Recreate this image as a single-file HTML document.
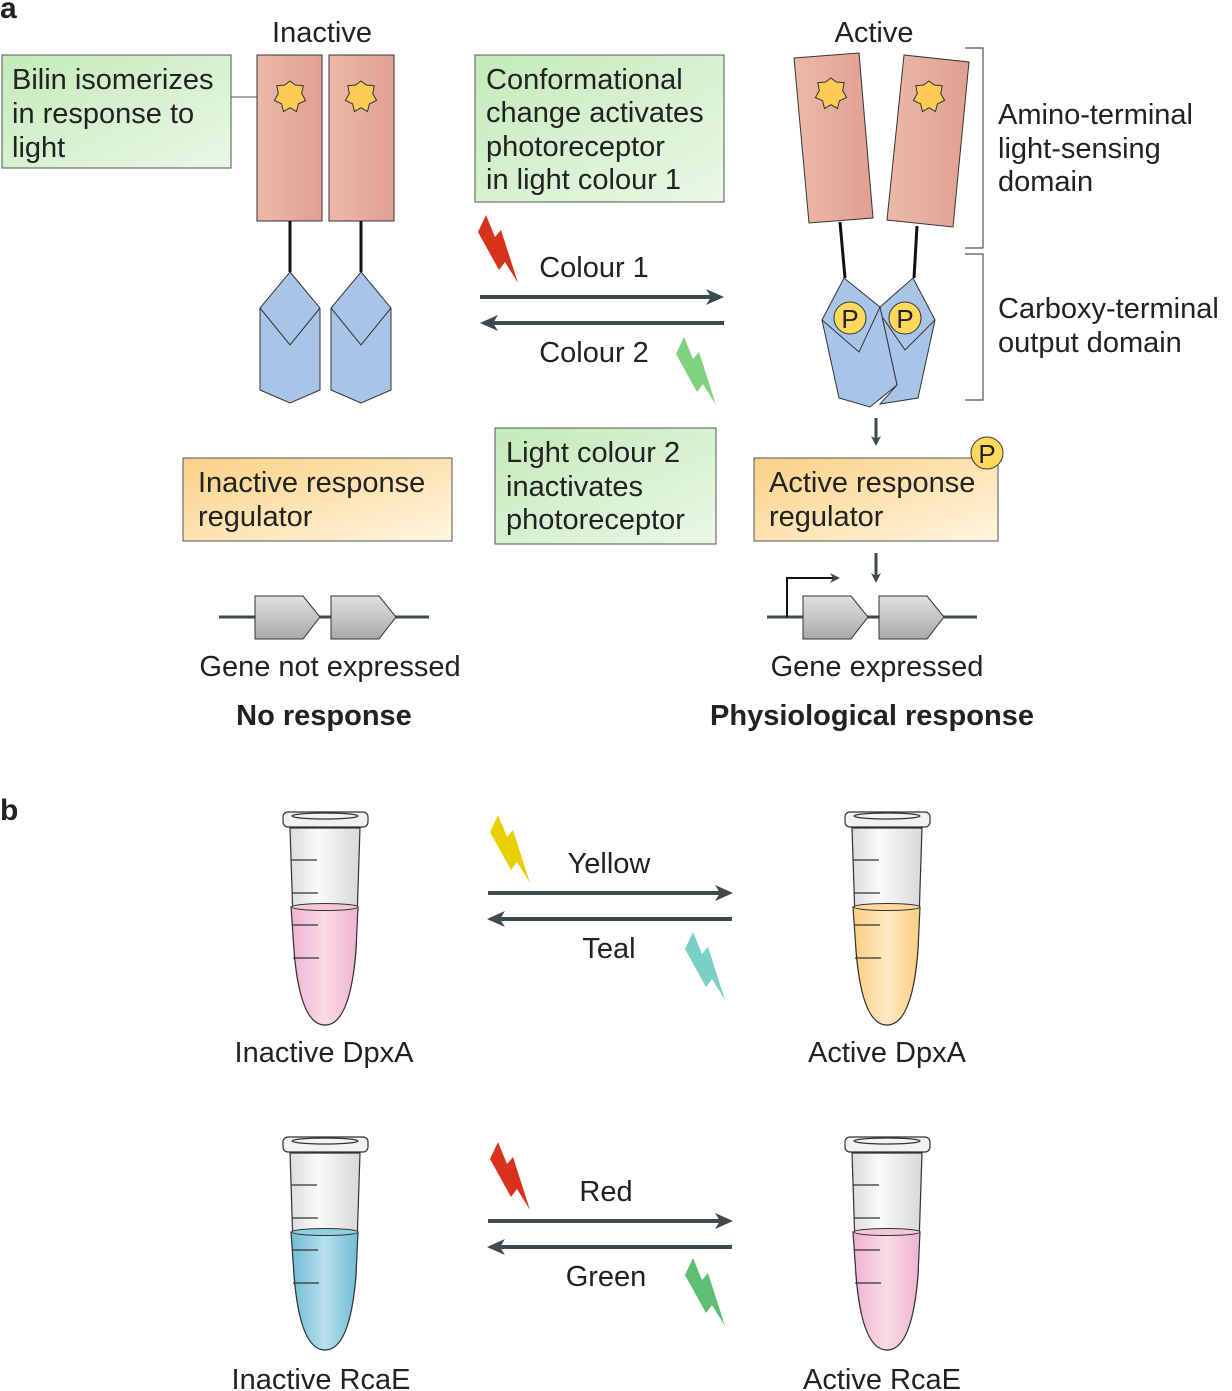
<!DOCTYPE html>
<html><head><meta charset="utf-8"><style>
html,body{margin:0;padding:0;background:#fff}
svg{display:block}
text{font-family:"Liberation Sans",sans-serif;font-size:29px;fill:#222}
</style></head><body>
<svg width="1232" height="1391" viewBox="0 0 1232 1391" xmlns="http://www.w3.org/2000/svg">
<defs>
<linearGradient id="red" x1="0" x2="1"><stop offset="0" stop-color="#ecb9aa"/><stop offset="1" stop-color="#e0a090"/></linearGradient>
<linearGradient id="grn" x1="0" y1="0" x2="1" y2="1"><stop offset="0" stop-color="#c3eab9"/><stop offset="1" stop-color="#eaf8e6"/></linearGradient>
<linearGradient id="org" x1="0" y1="0" x2="1" y2="1"><stop offset="0" stop-color="#fbd085"/><stop offset="1" stop-color="#fff5df"/></linearGradient>
<linearGradient id="gene" x1="0" y1="0" x2="0" y2="1"><stop offset="0" stop-color="#e0e0e0"/><stop offset="1" stop-color="#a9a9a9"/></linearGradient>
<linearGradient id="glass" x1="0" x2="1"><stop offset="0" stop-color="#dcdcdc"/><stop offset="0.4" stop-color="#fafafa"/><stop offset="1" stop-color="#d8d8d8"/></linearGradient>
<linearGradient id="pink" x1="0" x2="1"><stop offset="0" stop-color="#eeb3cc"/><stop offset="0.5" stop-color="#f9dbe7"/><stop offset="1" stop-color="#eeb3cc"/></linearGradient>
<linearGradient id="orl" x1="0" x2="1"><stop offset="0" stop-color="#fbcd80"/><stop offset="0.5" stop-color="#fee9c4"/><stop offset="1" stop-color="#fbcd80"/></linearGradient>
<linearGradient id="blu" x1="0" x2="1"><stop offset="0" stop-color="#6fbcd4"/><stop offset="0.5" stop-color="#b6e0ec"/><stop offset="1" stop-color="#6fbcd4"/></linearGradient>
<marker id="ah" markerWidth="10" markerHeight="10" refX="6" refY="5" orient="auto" markerUnits="userSpaceOnUse"><path d="M0,0 L10,5 L0,10 L3,5 Z" fill="#3d4a4f"/></marker>
<marker id="ah2" markerWidth="18" markerHeight="16" refX="14" refY="8" orient="auto" markerUnits="userSpaceOnUse"><path d="M0,0 L18,8 L0,16 L5,8 Z" fill="#3d4a4f"/></marker>
<polygon id="bolt" points="0,17 8,0 17,22 23,15 40,68 27,47 21,55"/>
<polygon id="star" points="0,-15 5.3,-11 13.2,-10.3 11.7,-2.5 15.6,4.5 8.4,7.8 6.5,15.6 0,11.7 -6.5,15.6 -8.4,7.8 -15.6,4.5 -11.7,-2.5 -13.2,-10.3 -5.3,-11" fill="#fdcb54" stroke="#333" stroke-width="1"/>
<g id="genes"><polygon points="0,0 48,0 65,21 48,43 0,43" fill="url(#gene)" stroke="#333" stroke-width="1"/></g>
</defs>

<text x="0" y="18" style="font-weight:bold;font-size:30px">a</text>
<text x="0" y="820" style="font-weight:bold;font-size:30px">b</text>

<text x="322" y="42" text-anchor="middle">Inactive</text>
<text x="874" y="42" text-anchor="middle">Active</text>

<rect x="2" y="55" width="229" height="113" fill="url(#grn)" stroke="#555" stroke-width="1"/>
<text x="12" y="89">Bilin isomerizes</text><text x="12" y="123">in response to</text><text x="12" y="157">light</text>
<line x1="231" y1="97" x2="280" y2="97" stroke="#555" stroke-width="1"/>
<rect x="475" y="55" width="249" height="147" fill="url(#grn)" stroke="#555" stroke-width="1"/>
<text x="486" y="89">Conformational</text><text x="486" y="122">change activates</text><text x="486" y="156">photoreceptor</text><text x="486" y="189">in light colour 1</text>
<rect x="495" y="428" width="221" height="116" fill="url(#grn)" stroke="#555" stroke-width="1"/>
<text x="506" y="462">Light colour 2</text><text x="506" y="496">inactivates</text><text x="506" y="529">photoreceptor</text>

<rect x="183" y="458" width="269" height="83" fill="url(#org)" stroke="#555" stroke-width="1"/>
<text x="198" y="492">Inactive response</text><text x="198" y="526">regulator</text>
<rect x="754" y="458" width="244" height="83" fill="url(#org)" stroke="#555" stroke-width="1"/>
<text x="769" y="492">Active response</text><text x="769" y="526">regulator</text>
<circle cx="987" cy="453" r="16" fill="#fdd85a" stroke="#333" stroke-width="1"/>
<text x="987" y="463" text-anchor="middle" style="font-size:26px">P</text>

<g stroke="#333" stroke-width="1">
<rect x="257" y="55" width="65" height="166" fill="url(#red)"/>
<rect x="329" y="55" width="65" height="166" fill="url(#red)"/>
</g>
<use href="#star" x="290" y="96"/><use href="#star" x="361" y="96"/>
<line x1="290" y1="221" x2="290" y2="272" stroke="#111" stroke-width="3"/>
<line x1="361" y1="221" x2="361" y2="272" stroke="#111" stroke-width="3"/>
<g fill="#a8c5e8" stroke="#333" stroke-width="1">
<polygon points="290,272 320,308 320,390 290,403 260,390 260,308"/>
<polyline points="260,308 290,345 320,308" fill="none"/>
<polygon points="361,272 391,308 391,390 361,403 331,390 331,308"/>
<polyline points="331,308 361,345 391,308" fill="none"/>
</g>

<g stroke="#333" stroke-width="1" fill="url(#red)">
<polygon points="794,58 859,53 873,218 809,223"/>
<polygon points="904,55 969,62 953,227 887,220"/>
</g>
<use href="#star" x="831" y="93"/><use href="#star" x="929" y="96"/>
<line x1="840" y1="222" x2="845" y2="278" stroke="#111" stroke-width="3"/>
<line x1="917" y1="226" x2="914" y2="278" stroke="#111" stroke-width="3"/>
<g fill="#a8c5e8" stroke="#333" stroke-width="1">
<polygon points="913,278 935,320 918,398 880,404 897,385 880,307"/>
<polyline points="883,318 905,350 935,320" fill="none"/>
<polygon points="844,278 880,307 897,385 870,407 839,398 822,320"/>
<polyline points="822,320 859,352 880,307" fill="none"/>
</g>
<circle cx="850" cy="318" r="16" fill="#fdd85a" stroke="#333" stroke-width="1"/>
<circle cx="905" cy="318" r="16" fill="#fdd85a" stroke="#333" stroke-width="1"/>
<text x="850" y="328" text-anchor="middle" style="font-size:26px">P</text>
<text x="905" y="328" text-anchor="middle" style="font-size:26px">P</text>

<g fill="none" stroke="#555" stroke-width="1.2">
<polyline points="965,48 983,48 983,248 965,248"/>
<polyline points="965,254 983,254 983,400 965,400"/>
</g>
<text x="998" y="124">Amino-terminal</text><text x="998" y="158">light-sensing</text><text x="998" y="191">domain</text>
<text x="998" y="318">Carboxy-terminal</text><text x="998" y="352">output domain</text>

<g stroke="#3d4a4f" stroke-width="4">
<line x1="480" y1="297" x2="720" y2="297" marker-end="url(#ah2)"/>
<line x1="724" y1="323" x2="484" y2="323" marker-end="url(#ah2)"/>
</g>
<text x="594" y="277" text-anchor="middle">Colour 1</text>
<text x="594" y="362" text-anchor="middle">Colour 2</text>
<use href="#bolt" x="478" y="215" fill="#d9321c"/>
<use href="#bolt" x="676" y="337" fill="#7fd27e"/>

<g stroke="#3d4a4f" stroke-width="3">
<line x1="876" y1="418" x2="876" y2="442" marker-end="url(#ah)"/>
<line x1="876" y1="553" x2="876" y2="579" marker-end="url(#ah)"/>
</g>

<line x1="219" y1="617" x2="429" y2="617" stroke="#3d4a4f" stroke-width="3"/>
<use href="#genes" x="255" y="596"/><use href="#genes" x="331" y="596"/>
<line x1="767" y1="617" x2="977" y2="617" stroke="#3d4a4f" stroke-width="3"/>
<use href="#genes" x="803" y="596"/><use href="#genes" x="879" y="596"/>
<polyline points="787,617 787,578 836,578" fill="none" stroke="#111" stroke-width="2" marker-end="url(#ah)"/>
<text x="330" y="676" text-anchor="middle">Gene not expressed</text>
<text x="324" y="725" text-anchor="middle" style="font-weight:bold">No response</text>
<text x="877" y="676" text-anchor="middle">Gene expressed</text>
<text x="872" y="725" text-anchor="middle" style="font-weight:bold">Physiological response</text>

<g stroke="#3d4a4f" stroke-width="4">
<line x1="488" y1="893" x2="729" y2="893" marker-end="url(#ah2)"/>
<line x1="732" y1="919" x2="491" y2="919" marker-end="url(#ah2)"/>
<line x1="488" y1="1221" x2="729" y2="1221" marker-end="url(#ah2)"/>
<line x1="732" y1="1247" x2="491" y2="1247" marker-end="url(#ah2)"/>
</g>
<text x="609" y="873" text-anchor="middle">Yellow</text>
<text x="609" y="958" text-anchor="middle">Teal</text>
<text x="606" y="1201" text-anchor="middle">Red</text>
<text x="606" y="1286" text-anchor="middle">Green</text>
<use href="#bolt" x="490" y="815" fill="#e8cf00"/>
<use href="#bolt" x="685" y="932" fill="#79d0c6"/>
<use href="#bolt" x="490" y="1142" fill="#d9321c"/>
<use href="#bolt" x="685" y="1258" fill="#5cbf73"/>

<g>
<path d="M290,828 L294,950 Q300,1025 325,1025 Q350,1025 356,950 L360,828 Z" fill="url(#glass)" stroke="#333" stroke-width="1.2"/>
<path d="M291,907 L294,950 Q300,1025 325,1025 Q350,1025 356,950 L358,907 Z" fill="url(#pink)" stroke="#333" stroke-width="1.2"/>
<ellipse cx="325" cy="907" rx="33" ry="3.5" fill="#f4c6d8" stroke="#333" stroke-width="1"/>
</g>
<g transform="translate(562,0)">
<path d="M290,828 L294,950 Q300,1025 325,1025 Q350,1025 356,950 L360,828 Z" fill="url(#glass)" stroke="#333" stroke-width="1.2"/>
<path d="M291,907 L294,950 Q300,1025 325,1025 Q350,1025 356,950 L358,907 Z" fill="url(#orl)" stroke="#333" stroke-width="1.2"/>
<ellipse cx="325" cy="907" rx="33" ry="3.5" fill="#fcd99a" stroke="#333" stroke-width="1"/>
</g>
<g transform="translate(0,325)">
<path d="M290,828 L294,950 Q300,1025 325,1025 Q350,1025 356,950 L360,828 Z" fill="url(#glass)" stroke="#333" stroke-width="1.2"/>
<path d="M291,907 L294,950 Q300,1025 325,1025 Q350,1025 356,950 L358,907 Z" fill="url(#blu)" stroke="#333" stroke-width="1.2"/>
<ellipse cx="325" cy="907" rx="33" ry="3.5" fill="#8fcfe0" stroke="#333" stroke-width="1"/>
</g>
<g transform="translate(562,325)">
<path d="M290,828 L294,950 Q300,1025 325,1025 Q350,1025 356,950 L360,828 Z" fill="url(#glass)" stroke="#333" stroke-width="1.2"/>
<path d="M291,907 L294,950 Q300,1025 325,1025 Q350,1025 356,950 L358,907 Z" fill="url(#pink)" stroke="#333" stroke-width="1.2"/>
<ellipse cx="325" cy="907" rx="33" ry="3.5" fill="#f4c6d8" stroke="#333" stroke-width="1"/>
</g>
<g stroke="#333" stroke-width="1.2">
<g><rect x="283" y="812" width="85" height="15" rx="5" fill="#f2f2f2"/><ellipse cx="325" cy="816" rx="33" ry="3" fill="none"/>
<path d="M291,860h26M292,893h26M292,925h26M293,958h26" fill="none"/></g>
<g transform="translate(562,0)"><rect x="283" y="812" width="85" height="15" rx="5" fill="#f2f2f2"/><ellipse cx="325" cy="816" rx="33" ry="3" fill="none"/>
<path d="M291,860h26M292,893h26M292,925h26M293,958h26" fill="none"/></g>
<g transform="translate(0,325)"><rect x="283" y="812" width="85" height="15" rx="5" fill="#f2f2f2"/><ellipse cx="325" cy="816" rx="33" ry="3" fill="none"/>
<path d="M291,860h26M292,893h26M292,925h26M293,958h26" fill="none"/></g>
<g transform="translate(562,325)"><rect x="283" y="812" width="85" height="15" rx="5" fill="#f2f2f2"/><ellipse cx="325" cy="816" rx="33" ry="3" fill="none"/>
<path d="M291,860h26M292,893h26M292,925h26M293,958h26" fill="none"/></g>
</g>
<text x="324" y="1062" text-anchor="middle">Inactive DpxA</text>
<text x="887" y="1062" text-anchor="middle">Active DpxA</text>
<text x="321" y="1389" text-anchor="middle">Inactive RcaE</text>
<text x="882" y="1389" text-anchor="middle">Active RcaE</text>
</svg>
</body></html>
